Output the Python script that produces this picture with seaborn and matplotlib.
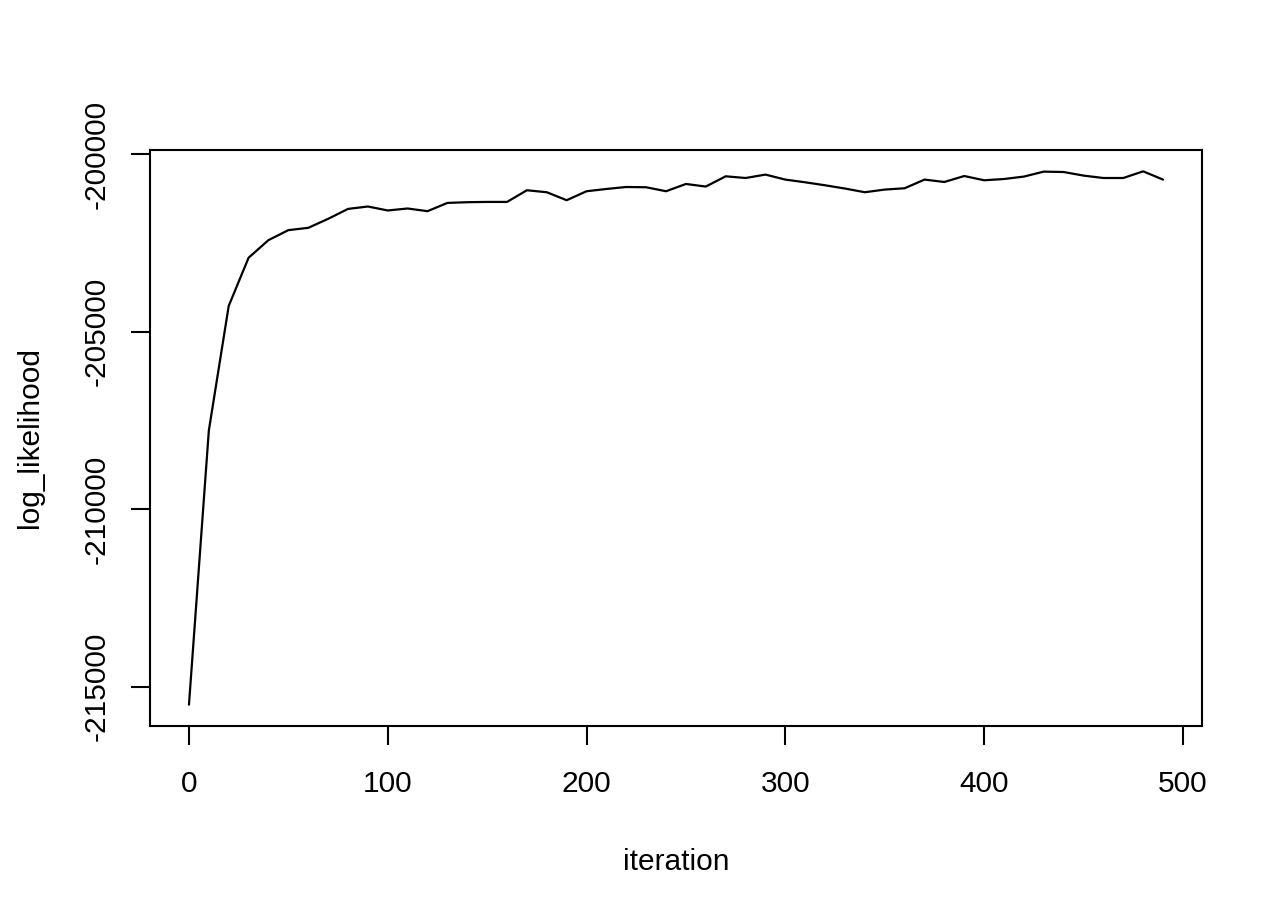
import matplotlib
matplotlib.use("Agg")
import matplotlib.pyplot as plt
import seaborn as sns
import pandas as pd

iteration = list(range(0, 500, 10))
log_likelihood = [
    -215506, -207780, -204270, -202913, -202416, -202135, -202070, -201817,
    -201537, -201469, -201581, -201525, -201601, -201368, -201348, -201340,
    -201340, -201011, -201067, -201292, -201039, -200975, -200919, -200927,
    -201039, -200834, -200907, -200618, -200666, -200570, -200711, -200787,
    -200871, -200963, -201067, -200992, -200955, -200711, -200778, -200610,
    -200730, -200694, -200626, -200486, -200497, -200598, -200666, -200666,
    -200478, -200711,
]
x_ticks = [0, 100, 200, 300, 400, 500]
y_ticks = [-215000, -210000, -205000, -200000]

df = pd.DataFrame({"iteration": iteration, "log_likelihood": log_likelihood})

sns.set_theme(style="white")
plt.rcParams["font.family"] = ["Liberation Sans", "DejaVu Sans"]

fig = plt.figure(figsize=(12.8, 9.14), dpi=100)
ax = fig.add_axes([150/1280, 1 - 726/914, (1202-150)/1280, (726-150)/914])

sns.lineplot(data=df, x="iteration", y="log_likelihood", color="black",
             linewidth=1.6, ax=ax)

xr = max(iteration) - min(iteration)
ax.set_xlim(min(iteration) - 0.04*xr, max(iteration) + 0.04*xr)
yr = max(log_likelihood) - min(log_likelihood)
ax.set_ylim(min(log_likelihood) - 0.04*yr, max(log_likelihood) + 0.04*yr)

ax.set_xticks(x_ticks)
ax.set_yticks(y_ticks)
ax.set_yticklabels([str(v) for v in y_ticks], rotation=90, va="center")
ax.tick_params(axis="both", direction="out", length=14, width=1.5,
               color="black", labelsize=21.5, labelcolor="black", pad=18,
               left=True, bottom=True)
ax.tick_params(axis="y", pad=14)

for s in ax.spines.values():
    s.set_color("black")
    s.set_linewidth(1.5)

ax.set_xlabel("iteration", fontsize=21.5, color="black", labelpad=36)
ax.set_ylabel("log_likelihood", fontsize=21.5, color="black", labelpad=28)

fig.savefig("out.png", dpi=100, facecolor="white")
